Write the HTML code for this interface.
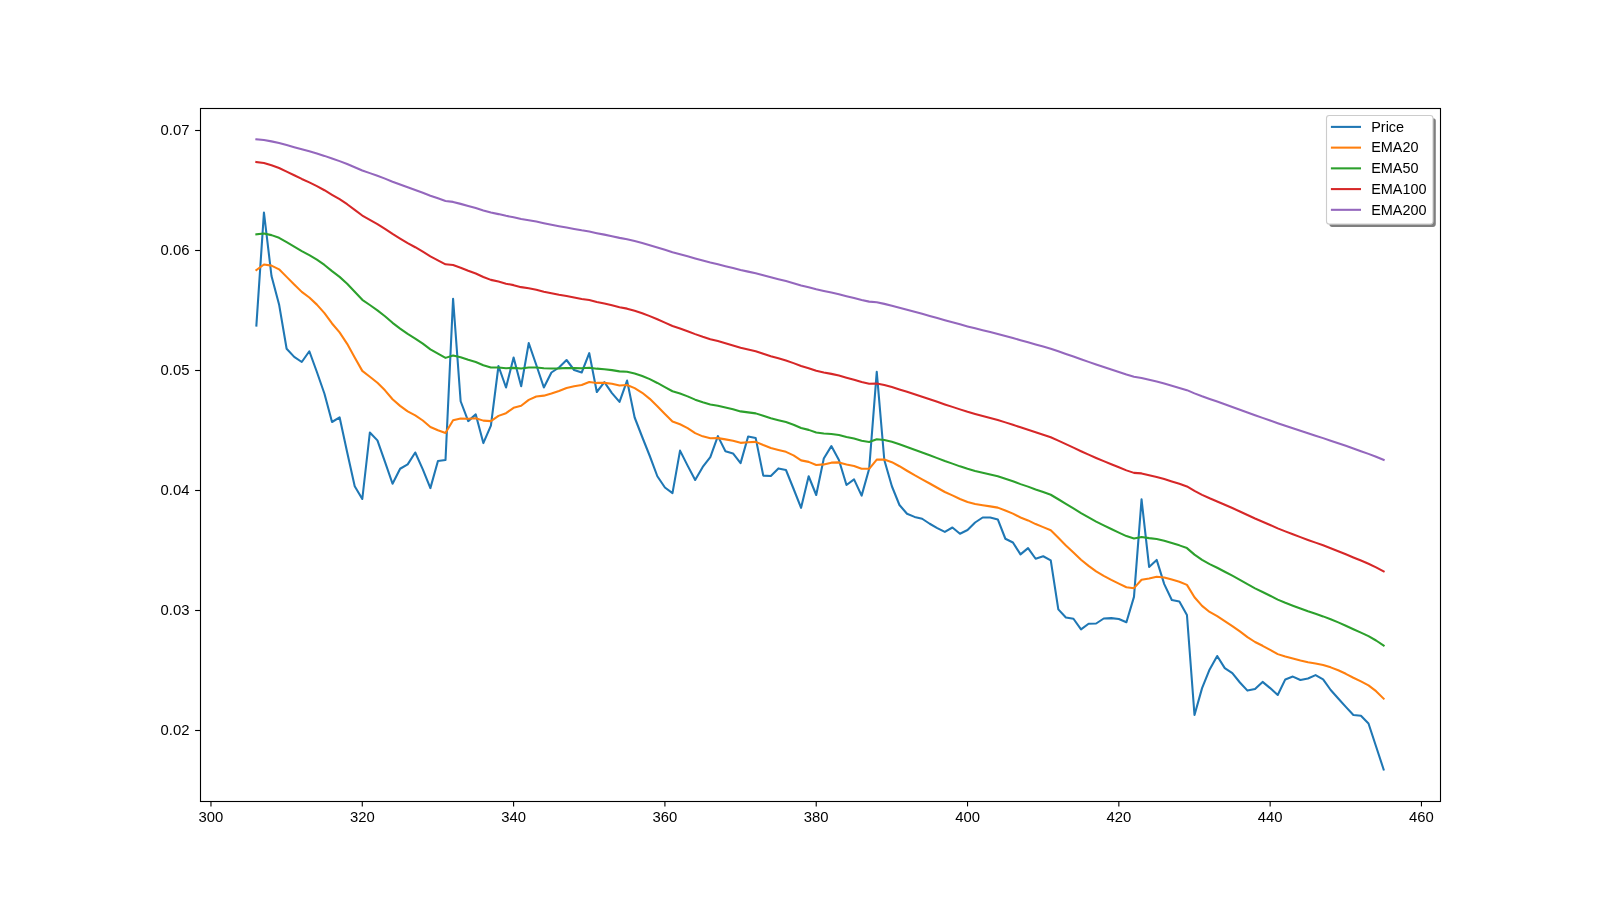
<!DOCTYPE html>
<html><head><meta charset="utf-8"><style>
html,body{margin:0;padding:0;background:#fff;}
svg{display:block;}
svg{will-change:transform;}
.t{font-family:"Liberation Sans",sans-serif;font-size:13.89px;fill:#000;}
</style></head><body>
<svg width="1600" height="900" viewBox="0 0 1600 900">
<rect width="1600" height="900" fill="#fff"/>
<g clip-path="url(#c)">
<polyline points="256.37,325.60 263.94,212.50 271.50,276.00 279.07,304.40 286.63,348.75 294.20,356.90 301.76,362.00 309.33,351.25 316.89,372.00 324.46,393.75 332.03,422.00 339.59,417.30 347.16,452.20 354.72,486.25 362.29,499.00 369.85,432.50 377.42,440.40 384.99,461.90 392.55,483.75 400.12,468.75 407.68,464.40 415.25,452.50 422.81,469.40 430.38,488.10 437.94,461.00 445.51,460.00 453.08,298.75 460.64,401.25 468.21,421.10 475.77,414.40 483.34,443.10 490.90,425.60 498.47,366.00 506.03,387.50 513.60,357.50 521.17,386.25 528.73,343.10 536.30,365.00 543.86,387.50 551.43,372.50 558.99,367.50 566.56,360.00 574.13,370.00 581.69,372.50 589.26,353.10 596.82,392.00 604.39,382.20 611.95,393.10 619.52,401.90 627.08,380.60 634.65,417.50 642.22,437.00 649.78,456.00 657.35,476.25 664.91,487.50 672.48,493.10 680.04,450.60 687.61,465.60 695.17,480.00 702.74,466.90 710.31,457.20 717.87,436.10 725.44,451.25 733.00,453.40 740.57,463.10 748.13,436.50 755.70,438.10 763.27,475.60 770.83,476.00 778.40,468.40 785.96,470.00 793.53,488.75 801.09,507.80 808.66,476.25 816.22,495.00 823.79,458.50 831.36,446.10 838.92,460.00 846.49,485.00 854.05,479.40 861.62,495.60 869.18,468.75 876.75,371.90 884.31,460.00 891.88,486.25 899.45,505.00 907.01,513.75 914.58,516.90 922.14,518.75 929.71,523.75 937.27,528.10 944.84,531.90 952.41,527.50 959.97,533.75 967.54,530.00 975.10,522.50 982.67,517.50 990.23,517.50 997.80,519.40 1005.36,538.75 1012.93,542.50 1020.50,554.40 1028.06,548.10 1035.63,558.75 1043.19,556.25 1050.76,560.30 1058.32,609.40 1065.89,617.50 1073.45,618.75 1081.02,629.40 1088.59,623.75 1096.15,623.50 1103.72,618.50 1111.28,618.10 1118.85,619.00 1126.41,622.25 1133.98,596.90 1141.55,499.40 1149.11,566.90 1156.68,559.90 1164.24,584.10 1171.81,600.00 1179.37,601.50 1186.94,615.00 1194.50,715.00 1202.07,688.10 1209.64,669.40 1217.20,656.00 1224.77,668.10 1232.33,673.10 1239.90,682.50 1247.46,690.60 1255.03,689.00 1262.59,681.90 1270.16,688.10 1277.73,695.00 1285.29,679.40 1292.86,676.60 1300.42,680.00 1307.99,678.50 1315.55,675.10 1323.12,679.40 1330.69,690.00 1338.25,698.50 1345.82,706.90 1353.38,715.00 1360.95,715.80 1368.51,723.50 1376.08,746.50 1383.64,769.50" fill="none" stroke="#1f77b4" stroke-width="2.08" stroke-linejoin="round" stroke-linecap="square"/>
<polyline points="256.37,270.00 263.94,264.52 271.50,265.62 279.07,269.31 286.63,276.88 294.20,284.50 301.76,291.88 309.33,297.53 316.89,304.63 324.46,313.11 332.03,323.48 339.59,332.42 347.16,343.83 354.72,357.39 362.29,370.88 369.85,376.75 377.42,382.81 384.99,390.34 392.55,399.24 400.12,405.86 407.68,411.43 415.25,415.34 422.81,420.49 430.38,426.93 437.94,430.18 445.51,433.02 453.08,420.23 460.64,418.42 468.21,418.68 475.77,418.27 483.34,420.63 490.90,421.11 498.47,415.86 506.03,413.16 513.60,407.86 521.17,405.80 528.73,399.83 536.30,396.51 543.86,395.65 551.43,393.45 558.99,390.98 566.56,388.03 574.13,386.31 581.69,384.99 589.26,381.96 596.82,382.91 604.39,382.85 611.95,383.82 619.52,385.54 627.08,385.07 634.65,388.16 642.22,392.81 649.78,398.83 657.35,406.20 664.91,413.95 672.48,421.48 680.04,424.26 687.61,428.19 695.17,433.13 702.74,436.35 710.31,438.33 717.87,438.12 725.44,439.37 733.00,440.71 740.57,442.84 748.13,442.23 755.70,441.84 763.27,445.06 770.83,448.00 778.40,449.95 785.96,451.86 793.53,455.37 801.09,460.36 808.66,461.88 816.22,465.03 823.79,464.41 831.36,462.66 838.92,462.41 846.49,464.56 854.05,465.98 861.62,468.80 869.18,468.79 876.75,459.56 884.31,459.61 891.88,462.14 899.45,466.23 907.01,470.75 914.58,475.15 922.14,479.30 929.71,483.53 937.27,487.78 944.84,491.98 952.41,495.36 959.97,499.02 967.54,501.97 975.10,503.92 982.67,505.22 990.23,506.39 997.80,507.63 1005.36,510.59 1012.93,513.63 1020.50,517.51 1028.06,520.43 1035.63,524.08 1043.19,527.14 1050.76,530.30 1058.32,537.83 1065.89,545.42 1073.45,552.40 1081.02,559.74 1088.59,565.83 1096.15,571.32 1103.72,575.82 1111.28,579.84 1118.85,583.57 1126.41,587.26 1133.98,588.18 1141.55,579.72 1149.11,578.50 1156.68,576.73 1164.24,577.43 1171.81,579.58 1179.37,581.67 1186.94,584.84 1194.50,597.24 1202.07,605.89 1209.64,611.94 1217.20,616.14 1224.77,621.09 1232.33,626.04 1239.90,631.42 1247.46,637.05 1255.03,642.00 1262.59,645.80 1270.16,649.83 1277.73,654.13 1285.29,656.54 1292.86,658.45 1300.42,660.50 1307.99,662.21 1315.55,663.44 1323.12,664.96 1330.69,667.35 1338.25,670.31 1345.82,673.80 1353.38,677.72 1360.95,681.35 1368.51,685.36 1376.08,691.19 1383.64,698.64" fill="none" stroke="#ff7f0e" stroke-width="2.08" stroke-linejoin="round" stroke-linecap="square"/>
<polyline points="256.37,234.30 263.94,233.45 271.50,235.11 279.07,237.83 286.63,242.18 294.20,246.68 301.76,251.20 309.33,255.13 316.89,259.71 324.46,264.97 332.03,271.12 339.59,276.86 347.16,283.73 354.72,291.67 362.29,299.80 369.85,305.01 377.42,310.32 384.99,316.26 392.55,322.83 400.12,328.55 407.68,333.88 415.25,338.53 422.81,343.66 430.38,349.33 437.94,353.71 445.51,357.88 453.08,355.56 460.64,357.35 468.21,359.85 475.77,361.99 483.34,365.17 490.90,367.54 498.47,367.48 506.03,368.26 513.60,367.84 521.17,368.56 528.73,367.56 536.30,367.46 543.86,368.25 551.43,368.42 558.99,368.38 566.56,368.05 574.13,368.13 581.69,368.30 589.26,367.70 596.82,368.66 604.39,369.19 611.95,370.13 619.52,371.37 627.08,371.73 634.65,373.53 642.22,376.02 649.78,379.15 657.35,382.96 664.91,387.06 672.48,391.22 680.04,393.55 687.61,396.37 695.17,399.65 702.74,402.29 710.31,404.44 717.87,405.69 725.44,407.47 733.00,409.27 740.57,411.38 748.13,412.37 755.70,413.38 763.27,415.82 770.83,418.18 778.40,420.15 785.96,422.10 793.53,424.72 801.09,427.97 808.66,429.87 816.22,432.42 823.79,433.44 831.36,433.94 838.92,434.96 846.49,436.92 854.05,438.59 861.62,440.83 869.18,441.92 876.75,439.18 884.31,439.99 891.88,441.81 899.45,444.28 907.01,447.01 914.58,449.75 922.14,452.46 929.71,455.25 937.27,458.11 944.84,461.00 952.41,463.61 959.97,466.36 967.54,468.86 975.10,470.96 982.67,472.78 990.23,474.54 997.80,476.30 1005.36,478.75 1012.93,481.25 1020.50,484.12 1028.06,486.62 1035.63,489.45 1043.19,492.07 1050.76,494.75 1058.32,499.24 1065.89,503.88 1073.45,508.39 1081.02,513.13 1088.59,517.47 1096.15,521.63 1103.72,525.43 1111.28,529.06 1118.85,532.59 1126.41,536.10 1133.98,538.49 1141.55,536.96 1149.11,538.13 1156.68,538.98 1164.24,540.75 1171.81,543.08 1179.37,545.37 1186.94,548.10 1194.50,554.64 1202.07,559.88 1209.64,564.17 1217.20,567.77 1224.77,571.71 1232.33,575.68 1239.90,579.87 1247.46,584.21 1255.03,588.32 1262.59,591.99 1270.16,595.76 1277.73,599.65 1285.29,602.78 1292.86,605.68 1300.42,608.59 1307.99,611.33 1315.55,613.83 1323.12,616.40 1330.69,619.29 1338.25,622.40 1345.82,625.71 1353.38,629.21 1360.95,632.61 1368.51,636.17 1376.08,640.50 1383.64,645.56" fill="none" stroke="#2ca02c" stroke-width="2.08" stroke-linejoin="round" stroke-linecap="square"/>
<polyline points="256.37,162.00 263.94,163.00 271.50,165.24 279.07,167.99 286.63,171.57 294.20,175.24 301.76,178.94 309.33,182.35 316.89,186.11 324.46,190.22 332.03,194.81 339.59,199.22 347.16,204.22 354.72,209.81 362.29,215.54 369.85,219.83 377.42,224.20 384.99,228.91 392.55,233.95 400.12,238.60 407.68,243.07 415.25,247.22 422.81,251.62 430.38,256.30 437.94,260.36 445.51,264.31 453.08,264.99 460.64,267.69 468.21,270.73 475.77,273.57 483.34,276.93 490.90,279.87 498.47,281.58 506.03,283.68 513.60,285.14 521.17,287.14 528.73,288.25 536.30,289.77 543.86,291.70 551.43,293.30 558.99,294.77 566.56,296.06 574.13,297.53 581.69,299.01 589.26,300.08 596.82,301.90 604.39,303.49 611.95,305.27 619.52,307.18 627.08,308.64 634.65,310.79 642.22,313.29 649.78,316.12 657.35,319.29 664.91,322.62 672.48,325.99 680.04,328.46 687.61,331.18 695.17,334.12 702.74,336.75 710.31,339.14 717.87,341.06 725.44,343.24 733.00,345.42 740.57,347.75 748.13,349.51 755.70,351.26 763.27,353.73 770.83,356.15 778.40,358.37 785.96,360.58 793.53,363.12 801.09,365.98 808.66,368.17 816.22,370.68 823.79,372.42 831.36,373.88 838.92,375.58 846.49,377.75 854.05,379.76 861.62,382.06 869.18,383.77 876.75,383.54 884.31,385.05 891.88,387.06 899.45,389.39 907.01,391.85 914.58,394.33 922.14,396.79 929.71,399.31 937.27,401.86 944.84,404.43 952.41,406.87 959.97,409.38 967.54,411.77 975.10,413.96 982.67,416.01 990.23,418.02 997.80,420.03 1005.36,422.38 1012.93,424.76 1020.50,427.33 1028.06,429.72 1035.63,432.27 1043.19,434.73 1050.76,437.22 1058.32,440.63 1065.89,444.13 1073.45,447.59 1081.02,451.19 1088.59,454.60 1096.15,457.95 1103.72,461.13 1111.28,464.24 1118.85,467.30 1126.41,470.37 1133.98,472.87 1141.55,473.40 1149.11,475.25 1156.68,476.93 1164.24,479.05 1171.81,481.44 1179.37,483.82 1186.94,486.42 1194.50,490.95 1202.07,494.85 1209.64,498.31 1217.20,501.43 1224.77,504.73 1232.33,508.06 1239.90,511.52 1247.46,515.06 1255.03,518.51 1262.59,521.74 1270.16,525.04 1277.73,528.40 1285.29,531.39 1292.86,534.27 1300.42,537.15 1307.99,539.95 1315.55,542.63 1323.12,545.34 1330.69,548.20 1338.25,551.18 1345.82,554.26 1353.38,557.44 1360.95,560.58 1368.51,563.81 1376.08,567.42 1383.64,571.43" fill="none" stroke="#d62728" stroke-width="2.08" stroke-linejoin="round" stroke-linecap="square"/>
<polyline points="256.37,139.30 263.94,140.03 271.50,141.38 279.07,143.00 286.63,145.05 294.20,147.16 301.76,149.30 309.33,151.31 316.89,153.50 324.46,155.89 332.03,158.54 339.59,161.11 347.16,164.01 354.72,167.22 362.29,170.52 369.85,173.13 377.42,175.79 384.99,178.63 392.55,181.67 400.12,184.52 407.68,187.31 415.25,189.95 422.81,192.73 430.38,195.67 437.94,198.31 445.51,200.91 453.08,201.89 460.64,203.87 468.21,206.03 475.77,208.10 483.34,210.44 490.90,212.58 498.47,214.11 506.03,215.83 513.60,217.24 521.17,218.93 528.73,220.16 536.30,221.60 543.86,223.25 551.43,224.74 558.99,226.16 566.56,227.49 574.13,228.91 581.69,230.34 589.26,231.56 596.82,233.16 604.39,234.64 611.95,236.22 619.52,237.86 627.08,239.28 634.65,241.06 642.22,243.01 649.78,245.13 657.35,247.43 664.91,249.81 672.48,252.24 680.04,254.21 687.61,256.31 695.17,258.54 702.74,260.61 710.31,262.57 717.87,264.29 725.44,266.15 733.00,268.02 740.57,269.96 748.13,271.62 755.70,273.27 763.27,275.29 770.83,277.28 778.40,279.18 785.96,281.08 793.53,283.15 801.09,285.39 808.66,287.28 816.22,289.35 823.79,291.03 831.36,292.58 838.92,294.24 846.49,296.14 854.05,297.96 861.62,299.93 869.18,301.61 876.75,302.31 884.31,303.88 891.88,305.69 899.45,307.68 907.01,309.73 914.58,311.79 922.14,313.85 929.71,315.94 937.27,318.05 944.84,320.18 952.41,322.24 959.97,324.34 967.54,326.39 975.10,328.34 982.67,330.22 990.23,332.09 997.80,333.95 1005.36,335.99 1012.93,338.04 1020.50,340.20 1028.06,342.26 1035.63,344.42 1043.19,346.53 1050.76,348.65 1058.32,351.25 1065.89,353.90 1073.45,356.53 1081.02,359.25 1088.59,361.88 1096.15,364.48 1103.72,367.01 1111.28,369.51 1118.85,371.99 1126.41,374.48 1133.98,376.69 1141.55,377.92 1149.11,379.80 1156.68,381.59 1164.24,383.60 1171.81,385.76 1179.37,387.90 1186.94,390.16 1194.50,393.39 1202.07,396.33 1209.64,399.04 1217.20,401.60 1224.77,404.25 1232.33,406.93 1239.90,409.67 1247.46,412.47 1255.03,415.22 1262.59,417.87 1270.16,420.56 1277.73,423.29 1285.29,425.84 1292.86,428.33 1300.42,430.84 1307.99,433.30 1315.55,435.71 1323.12,438.13 1330.69,440.64 1338.25,443.20 1345.82,445.83 1353.38,448.51 1360.95,451.17 1368.51,453.88 1376.08,456.79 1383.64,459.90" fill="none" stroke="#9467bd" stroke-width="2.08" stroke-linejoin="round" stroke-linecap="square"/>
</g>
<defs><clipPath id="c"><rect x="200" y="108" width="1240" height="693"/></clipPath></defs>
<rect x="200.5" y="108.5" width="1240" height="693" fill="none" stroke="#000" stroke-width="1.11"/>
<line x1="195.1" y1="730.5" x2="200" y2="730.5" stroke="#000" stroke-width="1.11"/>
<text transform="translate(189.5,735) scale(1.07,1)" text-anchor="end" class="t">0.02</text>
<line x1="195.1" y1="610.5" x2="200" y2="610.5" stroke="#000" stroke-width="1.11"/>
<text transform="translate(189.5,615) scale(1.07,1)" text-anchor="end" class="t">0.03</text>
<line x1="195.1" y1="490.5" x2="200" y2="490.5" stroke="#000" stroke-width="1.11"/>
<text transform="translate(189.5,495) scale(1.07,1)" text-anchor="end" class="t">0.04</text>
<line x1="195.1" y1="370.5" x2="200" y2="370.5" stroke="#000" stroke-width="1.11"/>
<text transform="translate(189.5,375) scale(1.07,1)" text-anchor="end" class="t">0.05</text>
<line x1="195.1" y1="250.5" x2="200" y2="250.5" stroke="#000" stroke-width="1.11"/>
<text transform="translate(189.5,255) scale(1.07,1)" text-anchor="end" class="t">0.06</text>
<line x1="195.1" y1="130.5" x2="200" y2="130.5" stroke="#000" stroke-width="1.11"/>
<text transform="translate(189.5,135) scale(1.07,1)" text-anchor="end" class="t">0.07</text>
<line x1="210.97" y1="801" x2="210.97" y2="806.4" stroke="#000" stroke-width="1.11"/>
<text transform="translate(210.97,822) scale(1.07,1)" text-anchor="middle" class="t">300</text>
<line x1="362.28" y1="801" x2="362.28" y2="806.4" stroke="#000" stroke-width="1.11"/>
<text transform="translate(362.28,822) scale(1.07,1)" text-anchor="middle" class="t">320</text>
<line x1="513.59" y1="801" x2="513.59" y2="806.4" stroke="#000" stroke-width="1.11"/>
<text transform="translate(513.59,822) scale(1.07,1)" text-anchor="middle" class="t">340</text>
<line x1="664.91" y1="801" x2="664.91" y2="806.4" stroke="#000" stroke-width="1.11"/>
<text transform="translate(664.91,822) scale(1.07,1)" text-anchor="middle" class="t">360</text>
<line x1="816.22" y1="801" x2="816.22" y2="806.4" stroke="#000" stroke-width="1.11"/>
<text transform="translate(816.22,822) scale(1.07,1)" text-anchor="middle" class="t">380</text>
<line x1="967.53" y1="801" x2="967.53" y2="806.4" stroke="#000" stroke-width="1.11"/>
<text transform="translate(967.53,822) scale(1.07,1)" text-anchor="middle" class="t">400</text>
<line x1="1118.84" y1="801" x2="1118.84" y2="806.4" stroke="#000" stroke-width="1.11"/>
<text transform="translate(1118.84,822) scale(1.07,1)" text-anchor="middle" class="t">420</text>
<line x1="1270.15" y1="801" x2="1270.15" y2="806.4" stroke="#000" stroke-width="1.11"/>
<text transform="translate(1270.15,822) scale(1.07,1)" text-anchor="middle" class="t">440</text>
<line x1="1421.46" y1="801" x2="1421.46" y2="806.4" stroke="#000" stroke-width="1.11"/>
<text transform="translate(1421.46,822) scale(1.07,1)" text-anchor="middle" class="t">460</text>

<rect x="1329.3" y="118.3" width="106.5" height="108.6" rx="2.8" fill="#000" fill-opacity="0.5"/>
<rect x="1326.5" y="115.5" width="106.5" height="108.6" rx="2.8" fill="#fff" stroke="#ccc" stroke-width="1.11"/>
<line x1="1330.9" y1="126.90" x2="1361" y2="126.90" stroke="#1f77b4" stroke-width="2.08" stroke-linecap="butt"/>
<text transform="translate(1371.2,131.75) scale(1.04,1)" class="t">Price</text>
<line x1="1330.9" y1="147.63" x2="1361" y2="147.63" stroke="#ff7f0e" stroke-width="2.08" stroke-linecap="butt"/>
<text transform="translate(1371.2,152.48) scale(1.04,1)" class="t">EMA20</text>
<line x1="1330.9" y1="168.36" x2="1361" y2="168.36" stroke="#2ca02c" stroke-width="2.08" stroke-linecap="butt"/>
<text transform="translate(1371.2,173.21) scale(1.04,1)" class="t">EMA50</text>
<line x1="1330.9" y1="189.09" x2="1361" y2="189.09" stroke="#d62728" stroke-width="2.08" stroke-linecap="butt"/>
<text transform="translate(1371.2,193.94) scale(1.04,1)" class="t">EMA100</text>
<line x1="1330.9" y1="209.82" x2="1361" y2="209.82" stroke="#9467bd" stroke-width="2.08" stroke-linecap="butt"/>
<text transform="translate(1371.2,214.67) scale(1.04,1)" class="t">EMA200</text>

</svg></body></html>
